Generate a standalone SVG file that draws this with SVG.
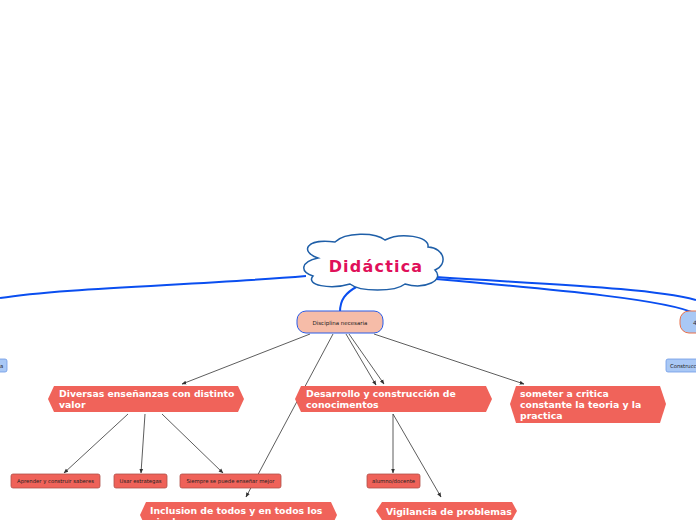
<svg xmlns="http://www.w3.org/2000/svg" width="696" height="520" viewBox="0 0 696 520">
<style>
.h{fill:#f0635a;}
.ht{font-family:"DejaVu Sans",sans-serif;font-weight:bold;font-size:9.3px;fill:#fff;}
.s{fill:#ef6259;stroke:#b0504a;stroke-width:0.8;}
.st{font-family:"DejaVu Sans",sans-serif;font-size:5.3px;fill:#222;}
.c{fill:none;stroke:#333;stroke-width:0.8;marker-end:url(#a);}
.b{fill:none;stroke:#0a4ef0;stroke-width:2;}
.bn{fill:#a9c8f5;stroke:#6f9be6;stroke-width:0.8;}
</style>
<defs><marker id="a" viewBox="0 0 10 10" refX="9" refY="5" markerWidth="6" markerHeight="6" orient="auto"><path d="M0,1 L10,5 L0,9 z" fill="#333"/></marker></defs>
<rect width="696" height="520" fill="#fff"/>
<g id="connectors">
<path class="b" d="M306,276 C200,285 60,288 0,298"/>
<path class="b" d="M436,277 C560,285 650,288 696,300"/>
<path class="b" d="M436,279 C560,290 670,300 696,314"/>
<path class="b" d="M358,286 C345,293 340,300 340,312"/>
<path class="c" d="M310,334 L182,384"/>
<path class="c" d="M333,334 L246,497"/>
<path class="c" d="M346,334 L376,385"/>
<path class="c" d="M349,334 L384,384"/>
<path class="c" d="M374,334 L524,384"/>
<path class="c" d="M128,414 L64,473"/>
<path class="c" d="M145,414 L141,473"/>
<path class="c" d="M162,414 L223,473"/>
<path class="c" d="M393,414 L393,473"/>
<path class="c" d="M393,414 L441,497"/>
</g>
<g id="didactica">
<path d="M318,258 C300,252 305,238 335,242 C345,232 375,232 385,240 C400,232 430,236 428,247 C445,248 448,265 435,270 C445,280 425,290 405,284 C395,292 360,292 350,284 C330,290 305,285 313,276 C300,272 300,262 318,258 Z" fill="#fff" stroke="#1f5fa8" stroke-width="1.5"/>
<text x="376" y="272" text-anchor="middle" font-family="DejaVu Sans,sans-serif" font-weight="bold" font-size="16" letter-spacing="1.2" fill="#e0105a">Didáctica</text>
</g>
<g id="disciplina">
<rect x="297" y="311" width="86" height="22" rx="9" fill="#f6bca8" stroke="#2a5ce8" stroke-width="1"/>
<text x="340" y="325" text-anchor="middle" font-family="DejaVu Sans,sans-serif" font-size="5.5" fill="#222">Disciplina necesaria</text>
</g>
<g id="diversas">
<path class="h" d="M54,386 L238,386 L244,399 L238,412 L54,412 L48,399 Z"/>
<text class="ht" x="59" y="397">Diversas enseñanzas con distinto</text>
<text class="ht" x="59" y="408">valor</text>
</g>
<g id="desarrollo">
<path class="h" d="M301,386 L486,386 L492,399 L486,412 L301,412 L295,399 Z"/>
<text class="ht" x="306" y="397">Desarrollo y construcción de</text>
<text class="ht" x="306" y="408">conocimentos</text>
</g>
<g id="someter">
<path class="h" d="M516,386 L660,386 L666,404 L660,423 L516,423 L510,404 Z"/>
<text class="ht" x="520" y="397">someter a critica</text>
<text class="ht" x="520" y="408">constante la teoria y la</text>
<text class="ht" x="520" y="419">practica</text>
</g>
<g id="aprender">
<rect class="s" x="11" y="474" width="89" height="14" rx="2"/>
<text class="st" x="55.5" y="483" text-anchor="middle">Aprender y construir saberes</text>
</g>
<g id="usar">
<rect class="s" x="114" y="474" width="53" height="14" rx="2"/>
<text class="st" x="140.5" y="483" text-anchor="middle">Usar estrategas</text>
</g>
<g id="siempre">
<rect class="s" x="180" y="474" width="101" height="14" rx="2"/>
<text class="st" x="230.5" y="483" text-anchor="middle">Siempre se puede enseñar mejor</text>
</g>
<g id="alumno">
<rect class="s" x="367" y="474" width="53" height="14" rx="2"/>
<text class="st" x="393.5" y="483" text-anchor="middle">alumno/docente</text>
</g>
<g id="inclusion">
<path class="h" d="M146,502 L331,502 L337,515 L331,528 L146,528 L140,515 Z"/>
<text class="ht" x="150" y="514">Inclusion de todos y en todos los</text>
<text class="ht" x="150" y="525">niveles</text>
</g>
<g id="vigilancia">
<path class="h" d="M382,502 L512,502 L517,511 L512,520 L382,520 L376,511 Z"/>
<text class="ht" x="386" y="515">Vigilancia de problemas</text>
</g>
<g id="right-node">
<rect x="680" y="311" width="40" height="22" rx="9" fill="#a9c8f5" stroke="#e8704a" stroke-width="1"/>
<text x="693" y="325" font-family="DejaVu Sans,sans-serif" font-size="6" fill="#333">4</text>
</g>
<g id="construccion">
<rect class="bn" x="666" y="359" width="60" height="13" rx="2"/>
<text class="st" x="670" y="368">Construcción</text>
</g>
<g id="left-node">
<rect class="bn" x="-20" y="359" width="27" height="13" rx="2"/>
<text class="st" x="0" y="368">a</text>
</g>
</svg>
